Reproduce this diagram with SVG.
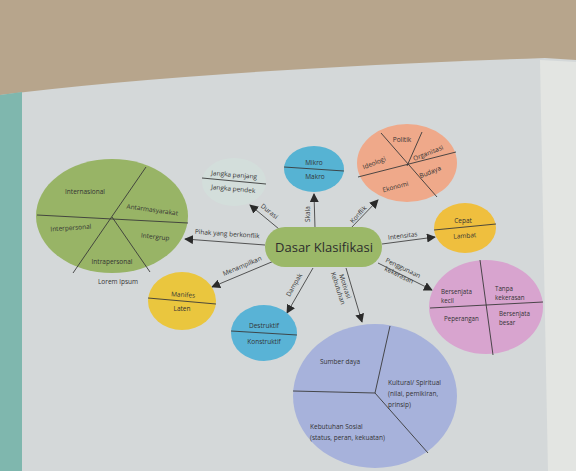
<svg xmlns="http://www.w3.org/2000/svg" width="576" height="471" viewBox="0 0 576 471">
<style>
text{font-family:"Open Sans","Noto Sans","Liberation Sans",sans-serif;fill:#333;}
.s{font-size:6.5px;}
.t{font-size:6.2px;}
.l{font-size:6.5px;}
.c{font-size:13px;fill:#2d2d2d;}
.div{stroke:#3a3a3a;stroke-width:0.9;fill:none;}
.con{stroke:#444;stroke-width:0.9;fill:none;marker-end:url(#ah);}
</style>
<defs>
<marker id="ah" viewBox="0 0 10 10" refX="9" refY="5" markerWidth="9" markerHeight="9" markerUnits="userSpaceOnUse" orient="auto">
<path d="M0,0 L10,5 L0,10 z" fill="#2a2a2a"/>
</marker>
</defs>
<g id="background">
<rect x="0" y="0" width="576" height="471" fill="#b7a58c"/>
<path d="M0,95 Q200,70 545,58 L576,60 L576,471 L0,471 z" fill="#d4d8d9"/>
<path d="M0,95 L22,92 L22,471 L0,471 z" fill="#7fb7ae"/>
<path d="M540,60 L576,62 L576,471 L548,471 z" fill="#e3e5e2"/>
</g>
<g id="connectors">
<line class="con" x1="279" y1="229" x2="250" y2="205"/>
<line class="con" x1="315" y1="228" x2="314" y2="194"/>
<line class="con" x1="350" y1="229" x2="378" y2="200"/>
<line class="con" x1="265" y1="245" x2="185" y2="239"/>
<line class="con" x1="382" y1="244" x2="435" y2="237"/>
<line class="con" x1="378" y1="263" x2="432" y2="290"/>
<line class="con" x1="274" y1="261" x2="212" y2="287"/>
<line class="con" x1="313" y1="268" x2="287" y2="313"/>
<line class="con" x1="346" y1="268" x2="362" y2="322"/>
<text class="l" transform="translate(268,213) rotate(39)" text-anchor="middle">Durasi</text>
<text class="l" transform="translate(310,214) rotate(-90)" text-anchor="middle">Skala</text>
<text class="l" transform="translate(360,216) rotate(-48)" text-anchor="middle">Konflik</text>
<text class="l" transform="translate(227,236) rotate(4)" text-anchor="middle">Pihak yang berkonflik</text>
<text class="l" transform="translate(403,238) rotate(-7)" text-anchor="middle">Intensitas</text>
<text class="l" transform="translate(402,270) rotate(26)" text-anchor="middle">Penggunaan</text>
<text class="l" transform="translate(398,277) rotate(26)" text-anchor="middle">kekerasan</text>
<text class="l" transform="translate(243,268) rotate(-23)" text-anchor="middle">Menampilkan</text>
<text class="l" transform="translate(296,286) rotate(-60)" text-anchor="middle">Dampak</text>
<text class="l" transform="translate(343,287) rotate(72)" text-anchor="middle">Motivasi</text>
<text class="l" transform="translate(336,289) rotate(72)" text-anchor="middle">Kebutuhan</text>
</g>
<g id="pihak">
<ellipse cx="112" cy="216" rx="76" ry="57" fill="#98b466"/>
<line class="div" x1="37" y1="215" x2="188" y2="223"/>
<line class="div" x1="146" y1="167" x2="73" y2="273"/>
<line class="div" x1="112" y1="217" x2="150" y2="272"/>
<text class="s" x="85" y="194" text-anchor="middle">Internasional</text>
<text class="s" transform="translate(152,212) rotate(8)" text-anchor="middle">Antarmasyarakat</text>
<text class="s" transform="translate(71,230) rotate(-4)" text-anchor="middle">Interpersonal</text>
<text class="s" transform="translate(155,239) rotate(6)" text-anchor="middle">Intergrup</text>
<text class="s" x="112" y="264" text-anchor="middle">Intrapersonal</text>
<text class="s" x="118" y="284" text-anchor="middle">Lorem ipsum</text>
</g>
<g id="durasi">
<ellipse cx="234" cy="182" rx="32" ry="24" fill="#d3dedb"/>
<line class="div" x1="202" y1="178" x2="266" y2="184"/>
<text class="s" transform="translate(234,177) rotate(5)" text-anchor="middle">Jangka panjang</text>
<text class="s" transform="translate(233,191) rotate(5)" text-anchor="middle">Jangka pendek</text>
</g>
<g id="skala">
<ellipse cx="314" cy="169" rx="30" ry="23" fill="#56b3d3"/>
<line class="div" x1="284" y1="167" x2="344" y2="171"/>
<text class="s" x="314" y="165" text-anchor="middle">Mikro</text>
<text class="s" x="315" y="179" text-anchor="middle">Makro</text>
</g>
<g id="konflik">
<ellipse cx="407" cy="163" rx="50" ry="39" fill="#efa98a"/>
<line class="div" x1="381" y1="133" x2="437" y2="197"/>
<line class="div" x1="358" y1="177" x2="456" y2="152"/>
<line class="div" x1="422" y1="132" x2="407" y2="166"/>
<text class="s" x="402" y="142" text-anchor="middle">Politik</text>
<text class="s" transform="translate(429,155) rotate(-22)" text-anchor="middle">Organisasi</text>
<text class="s" transform="translate(375,165) rotate(-22)" text-anchor="middle">Ideologi</text>
<text class="s" transform="translate(431,174) rotate(-22)" text-anchor="middle">Budaya</text>
<text class="s" transform="translate(396,189) rotate(-15)" text-anchor="middle">Ekonomi</text>
</g>
<g id="intensitas">
<ellipse cx="465" cy="228" rx="31" ry="25" fill="#efbf3e"/>
<line class="div" x1="434" y1="230" x2="496" y2="224"/>
<text class="s" x="463" y="223" text-anchor="middle">Cepat</text>
<text class="s" transform="translate(465,238) rotate(-4)" text-anchor="middle">Lambat</text>
</g>
<g id="kekerasan">
<ellipse cx="486" cy="307" rx="57" ry="47" fill="#d8a4cf"/>
<line class="div" x1="480" y1="260" x2="493" y2="355"/>
<line class="div" x1="430" y1="308" x2="543" y2="302"/>
<text class="t" x="441" y="294">Bersenjata</text>
<text class="t" x="441" y="302.5">kecil</text>
<text class="t" x="495" y="291">Tanpa</text>
<text class="t" x="495" y="299.5">kekerasan</text>
<text class="t" x="444" y="321">Peperangan</text>
<text class="t" x="499" y="316">Bersenjata</text>
<text class="t" x="499" y="324.5">besar</text>
</g>
<g id="menampilkan">
<ellipse cx="182" cy="301" rx="34" ry="29" fill="#eac63e"/>
<line class="div" x1="148" y1="298" x2="216" y2="304"/>
<text class="s" transform="translate(183,297) rotate(4)" text-anchor="middle">Manifes</text>
<text class="s" x="182" y="311" text-anchor="middle">Laten</text>
</g>
<g id="dampak">
<ellipse cx="264" cy="333" rx="33" ry="28" fill="#59b3d6"/>
<line class="div" x1="231" y1="331" x2="297" y2="335"/>
<text class="s" x="264" y="328" text-anchor="middle">Destruktif</text>
<text class="s" x="264" y="344" text-anchor="middle">Konstruktif</text>
</g>
<g id="motivasi">
<ellipse cx="375" cy="396" rx="82" ry="72" fill="#a7b2db"/>
<line class="div" x1="390" y1="326" x2="375" y2="393"/>
<line class="div" x1="293" y1="391" x2="375" y2="393"/>
<line class="div" x1="375" y1="393" x2="428" y2="453"/>
<text class="s" x="340" y="364" text-anchor="middle">Sumber daya</text>
<text class="s" x="388" y="385">Kultural/ Spiritual</text>
<text class="s" x="388" y="396">(nilai, pemikiran,</text>
<text class="s" x="388" y="407">prinsip)</text>
<text class="s" x="310" y="429">Kebutuhan Sosial</text>
<text class="s" x="310" y="440">(status, peran, kekuatan)</text>
</g>
<g id="center">
<rect x="265" y="227" width="117" height="40" rx="20" fill="#9bb868"/>
<text class="c" x="324" y="252" text-anchor="middle">Dasar Klasifikasi</text>
</g>
</svg>
